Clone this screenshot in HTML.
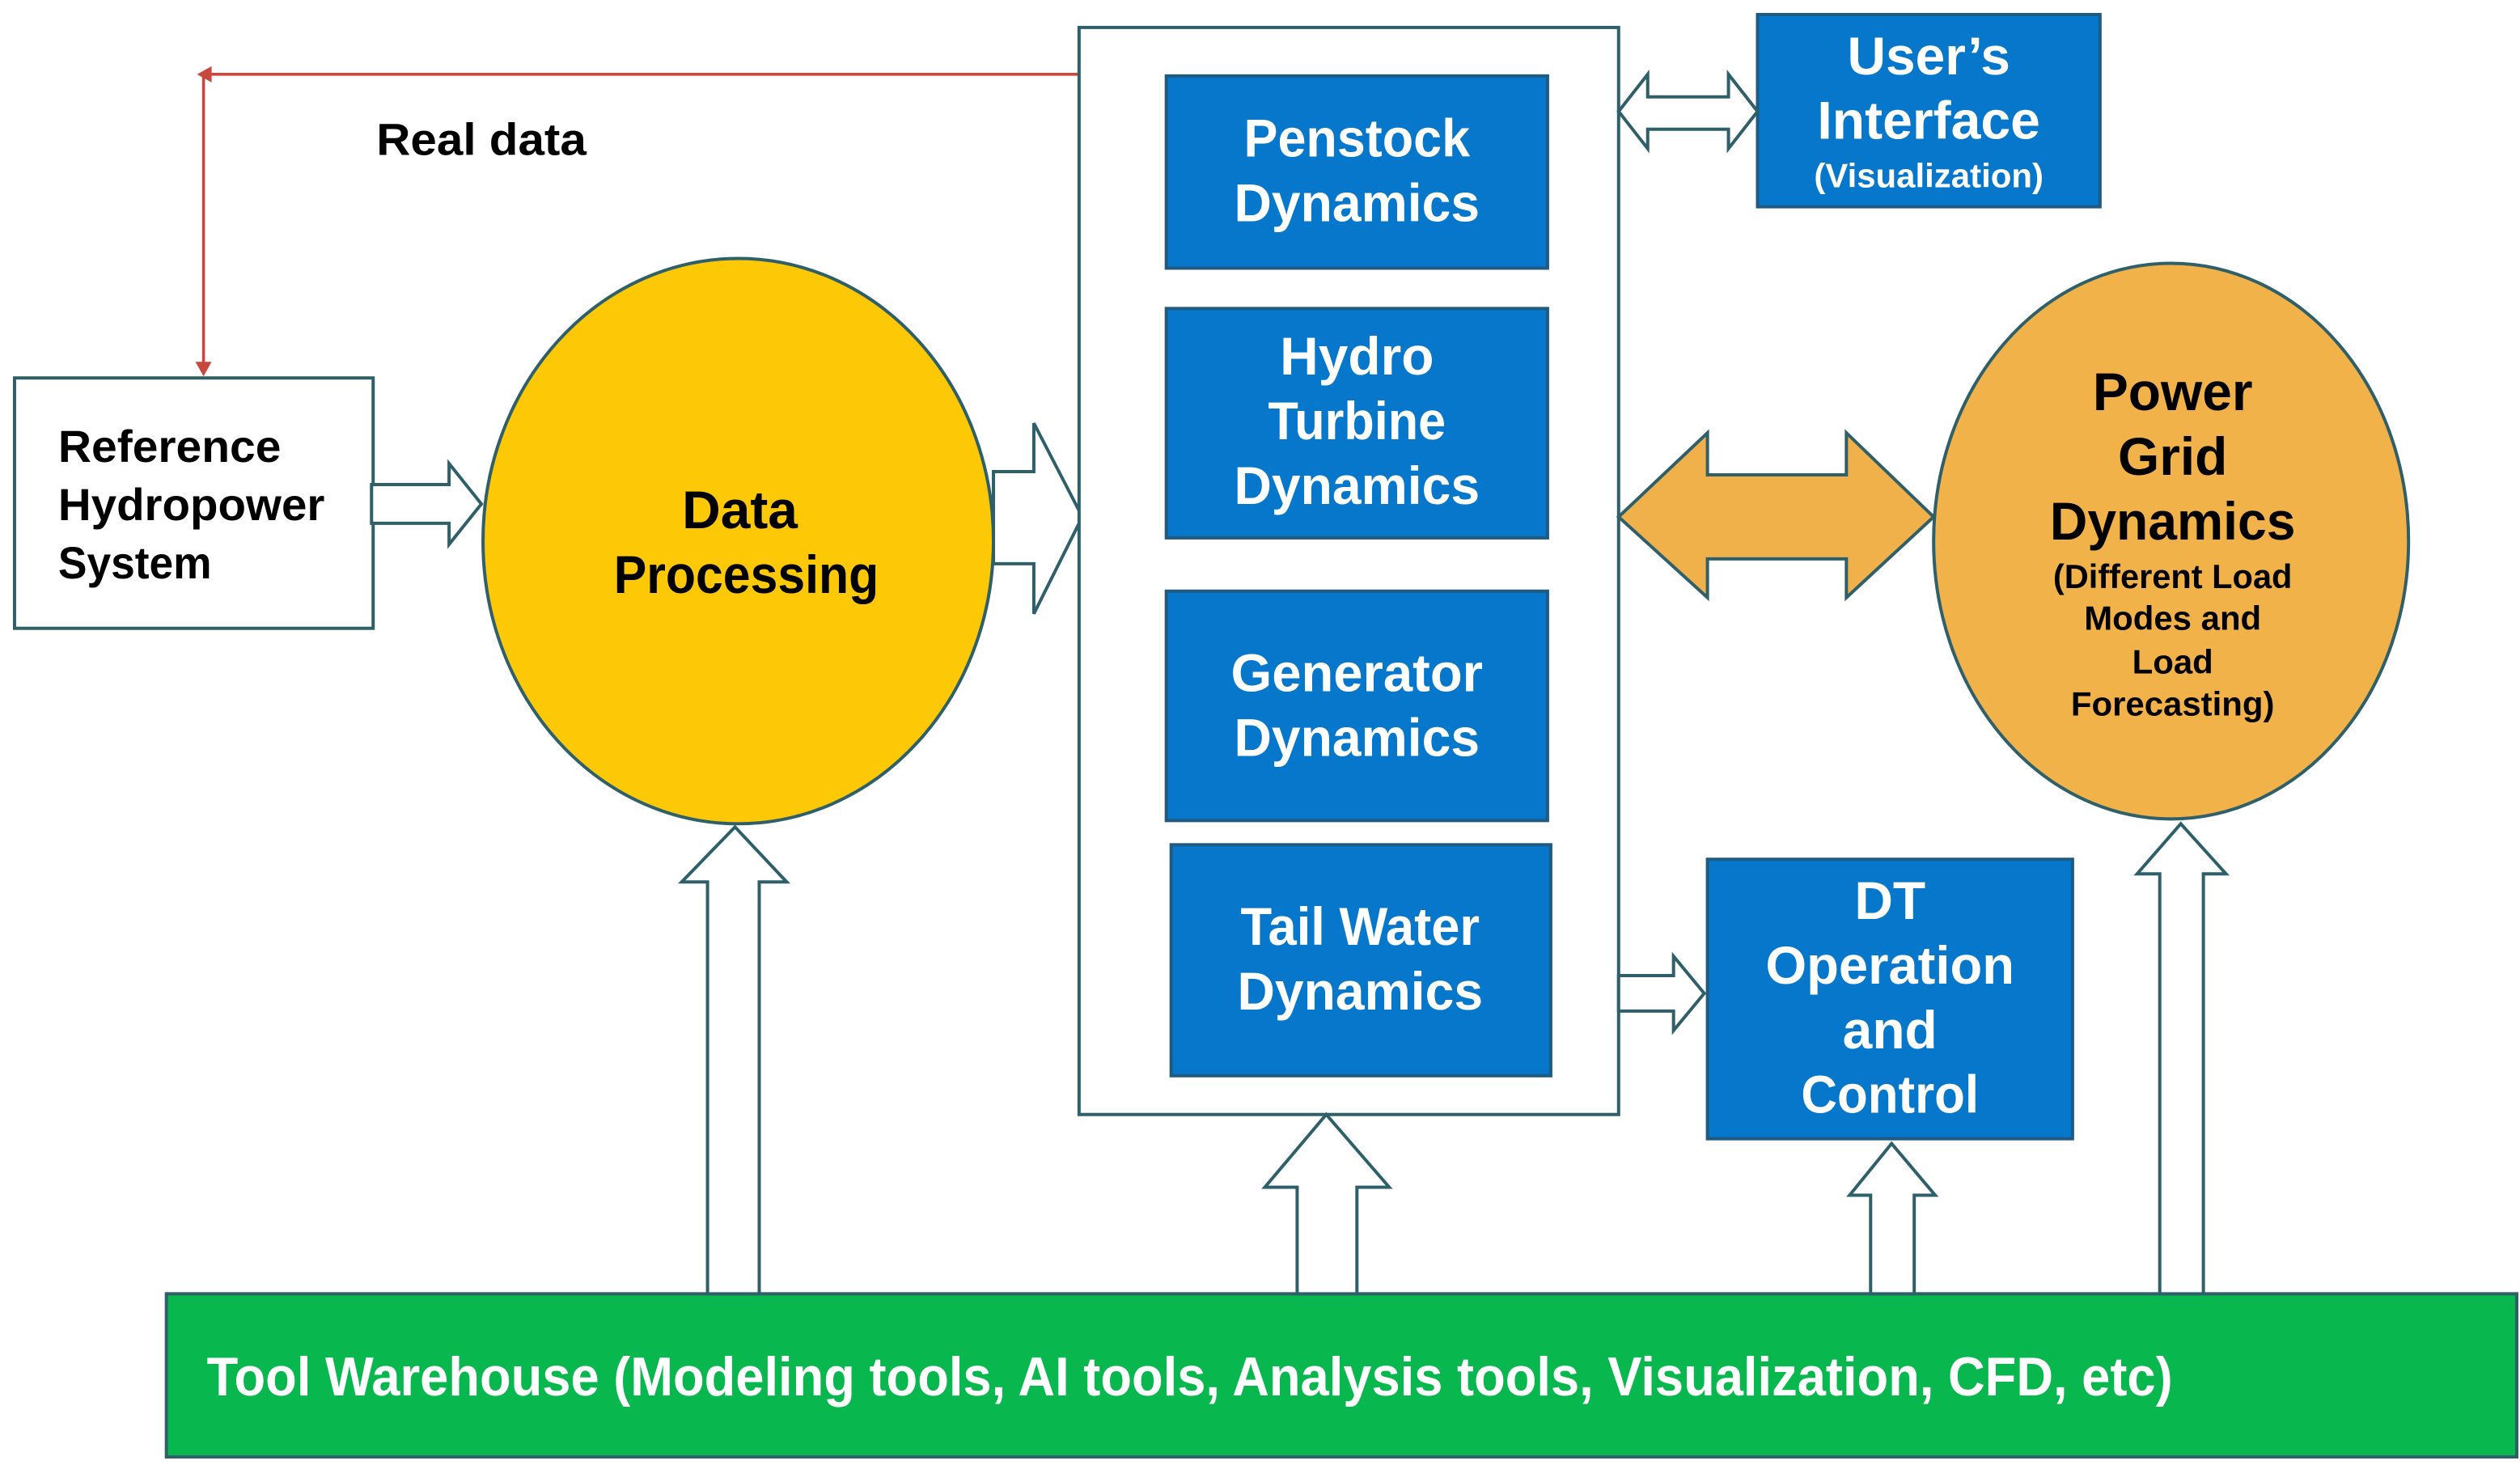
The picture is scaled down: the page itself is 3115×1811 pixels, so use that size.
<!DOCTYPE html>
<html><head><meta charset="utf-8"><style>
html,body{margin:0;padding:0;background:#fff;}
svg{display:block;}
text{font-family:"Liberation Sans",sans-serif;font-weight:bold;}
</style></head><body>
<svg width="3115" height="1811" viewBox="0 0 1560 907" preserveAspectRatio="none" xmlns="http://www.w3.org/2000/svg">
<g stroke="#2f6069" stroke-width="2">
<!-- red feedback line -->
<polyline points="668,46 126,46 126,226" fill="none" stroke="#c9473c" stroke-width="1.8"/>
<polygon points="122,46 131,41 131,51" fill="#c9473c" stroke="none"/>
<polygon points="126,233 121,224 131,224" fill="#c9473c" stroke="none"/>

<!-- reference box -->
<rect x="9" y="234" width="222" height="155" fill="#fff"/>
<!-- arrow ref -> circle -->
<polygon points="230,300 278,300 278,287 298,312 278,337 278,324 230,324" fill="#fff"/>

<!-- data processing circle -->
<ellipse cx="457" cy="335" rx="158" ry="175" fill="#fdc806"/>
<!-- arrow circle -> container -->
<polygon points="615,292 640,292 640,262 670,320 640,380 640,349 615,349" fill="#fff"/>

<!-- container -->
<rect x="668" y="17" width="334" height="673" fill="#fff"/>

<!-- blue boxes -->
<g fill="#0777cc" stroke="#1f5a80">
<rect x="722" y="47" width="236" height="119"/>
<rect x="722" y="191" width="236" height="142"/>
<rect x="722" y="366" width="236" height="142"/>
<rect x="725" y="523" width="235" height="143"/>
<rect x="1088" y="9" width="212" height="119"/>
<rect x="1057" y="532" width="226" height="173"/>
</g>

<!-- double arrow container <-> UI -->
<polygon points="1002,69 1020,46 1020,60 1070,60 1070,46 1088,69 1070,92 1070,80 1020,80 1020,92" fill="#fff"/>

<!-- orange double arrow -->
<polygon points="1002,320 1057,268 1057,294 1143,294 1143,268 1197,320 1143,370 1143,346 1057,346 1057,370" fill="#f0b04a"/>

<!-- power grid ellipse -->
<ellipse cx="1344" cy="335" rx="147" ry="172" fill="#f2b24a"/>

<!-- arrow tail water -> DT -->
<polygon points="1002,604 1036,604 1036,592 1055,615 1036,638 1036,626 1002,626" fill="#fff"/>

<!-- green bar -->
<rect x="103" y="801" width="1455" height="101" fill="#08b74d"/>

<!-- up arrows -->
<polygon points="438,801 438,546 422,546 455,512 487,546 470,546 470,801" fill="#fff"/>
<polygon points="803,801 803,735 783,735 821,690 860,735 840,735 840,801" fill="#fff"/>
<polygon points="1158,801 1158,740 1145,740 1171,708 1198,740 1185,740 1185,801" fill="#fff"/>
<polygon points="1337,801 1337,541 1323,541 1350,510 1378,541 1364,541 1364,801" fill="#fff"/>
</g>

<!-- texts -->
<g fill="#000">
<text x="233" y="96" font-size="28" textLength="130" lengthAdjust="spacingAndGlyphs">Real data</text>
<text x="36" y="286" font-size="28" textLength="138" lengthAdjust="spacingAndGlyphs">Reference</text>
<text x="36" y="322" font-size="28" textLength="165" lengthAdjust="spacingAndGlyphs">Hydropower</text>
<text x="36" y="358" font-size="28" textLength="95" lengthAdjust="spacingAndGlyphs">System</text>
<g text-anchor="middle" font-size="33">
<text x="458" y="327">Data</text>
<text x="462" y="367" textLength="164" lengthAdjust="spacingAndGlyphs">Processing</text>
<text x="1345" y="254">Power</text>
<text x="1345" y="294">Grid</text>
<text x="1345" y="334" textLength="152" lengthAdjust="spacingAndGlyphs">Dynamics</text>
</g>
<g text-anchor="middle" font-size="21">
<text x="1345" y="364" textLength="148" lengthAdjust="spacingAndGlyphs">(Different Load</text>
<text x="1345" y="390">Modes and</text>
<text x="1345" y="417">Load</text>
<text x="1345" y="443" textLength="126" lengthAdjust="spacingAndGlyphs">Forecasting)</text>
</g>
</g>
<g fill="#fff" text-anchor="middle" font-size="33">
<text x="840" y="97" textLength="140" lengthAdjust="spacingAndGlyphs">Penstock</text>
<text x="840" y="137" textLength="152" lengthAdjust="spacingAndGlyphs">Dynamics</text>
<text x="840" y="232">Hydro</text>
<text x="840" y="272" textLength="110" lengthAdjust="spacingAndGlyphs">Turbine</text>
<text x="840" y="312" textLength="152" lengthAdjust="spacingAndGlyphs">Dynamics</text>
<text x="840" y="428" textLength="156" lengthAdjust="spacingAndGlyphs">Generator</text>
<text x="840" y="468" textLength="152" lengthAdjust="spacingAndGlyphs">Dynamics</text>
<text x="842" y="585" textLength="148" lengthAdjust="spacingAndGlyphs">Tail Water</text>
<text x="842" y="625" textLength="152" lengthAdjust="spacingAndGlyphs">Dynamics</text>
<text x="1194" y="46">User’s</text>
<text x="1194" y="86" textLength="138" lengthAdjust="spacingAndGlyphs">Interface</text>
<text x="1194" y="116" font-size="21" textLength="142" lengthAdjust="spacingAndGlyphs">(Visualization)</text>
<text x="1170" y="569">DT</text>
<text x="1170" y="609" textLength="154" lengthAdjust="spacingAndGlyphs">Operation</text>
<text x="1170" y="649">and</text>
<text x="1170" y="689" textLength="110" lengthAdjust="spacingAndGlyphs">Control</text>
<text x="128" y="864" text-anchor="start" font-size="34" textLength="1217" lengthAdjust="spacingAndGlyphs">Tool Warehouse (Modeling tools, AI tools, Analysis tools, Visualization, CFD, etc)</text>
</g>
</svg>
</body></html>
